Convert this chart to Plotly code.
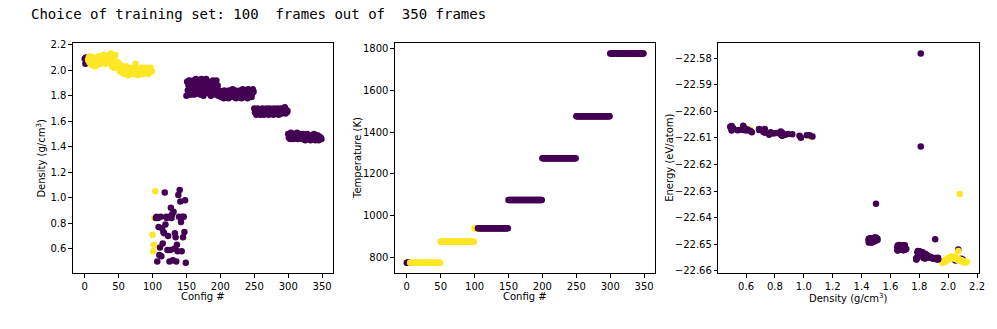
import plotly.graph_objects as go

# ---------------- data ----------------
n_frames = 350
config = list(range(n_frames))
train_idx = list(range(5, 105))          # frames chosen for the training set

temperature = [
    775, 775, 775, 775, 775, 775, 775, 775, 775, 775, 775, 775, 775, 775, 775, 775, 775, 775, 775, 775, 775, 775, 775, 775, 775,
    775, 775, 775, 775, 775, 775, 775, 775, 775, 775, 775, 775, 775, 775, 775, 775, 775, 775, 775, 775, 775, 775, 775, 775, 775,
    875, 875, 875, 875, 875, 875, 875, 875, 875, 875, 875, 875, 875, 875, 875, 875, 875, 875, 875, 875, 875, 875, 875, 875, 875,
    875, 875, 875, 875, 875, 875, 875, 875, 875, 875, 875, 875, 875, 875, 875, 875, 875, 875, 875, 875, 875, 875, 875, 875, 875,
    940, 940, 940, 940, 940, 940, 940, 940, 940, 940, 940, 940, 940, 940, 940, 940, 940, 940, 940, 940, 940, 940, 940, 940, 940,
    940, 940, 940, 940, 940, 940, 940, 940, 940, 940, 940, 940, 940, 940, 940, 940, 940, 940, 940, 940, 940, 940, 940, 940, 940,
    1075, 1075, 1075, 1075, 1075, 1075, 1075, 1075, 1075, 1075, 1075, 1075, 1075, 1075, 1075, 1075, 1075, 1075, 1075, 1075, 1075, 1075, 1075, 1075, 1075,
    1075, 1075, 1075, 1075, 1075, 1075, 1075, 1075, 1075, 1075, 1075, 1075, 1075, 1075, 1075, 1075, 1075, 1075, 1075, 1075, 1075, 1075, 1075, 1075, 1075,
    1275, 1275, 1275, 1275, 1275, 1275, 1275, 1275, 1275, 1275, 1275, 1275, 1275, 1275, 1275, 1275, 1275, 1275, 1275, 1275, 1275, 1275, 1275, 1275, 1275,
    1275, 1275, 1275, 1275, 1275, 1275, 1275, 1275, 1275, 1275, 1275, 1275, 1275, 1275, 1275, 1275, 1275, 1275, 1275, 1275, 1275, 1275, 1275, 1275, 1275,
    1475, 1475, 1475, 1475, 1475, 1475, 1475, 1475, 1475, 1475, 1475, 1475, 1475, 1475, 1475, 1475, 1475, 1475, 1475, 1475, 1475, 1475, 1475, 1475, 1475,
    1475, 1475, 1475, 1475, 1475, 1475, 1475, 1475, 1475, 1475, 1475, 1475, 1475, 1475, 1475, 1475, 1475, 1475, 1475, 1475, 1475, 1475, 1475, 1475, 1475,
    1775, 1775, 1775, 1775, 1775, 1775, 1775, 1775, 1775, 1775, 1775, 1775, 1775, 1775, 1775, 1775, 1775, 1775, 1775, 1775, 1775, 1775, 1775, 1775, 1775,
    1775, 1775, 1775, 1775, 1775, 1775, 1775, 1775, 1775, 1775, 1775, 1775, 1775, 1775, 1775, 1775, 1775, 1775, 1775, 1775, 1775, 1775, 1775, 1775, 1775,
]

density = [
    # 0-49
    2.09, 2.05, 2.10, 2.07, 2.08,
    2.08, 2.10, 2.06, 2.11, 2.09, 2.04, 2.07, 2.10, 2.05, 2.08,
    2.03, 2.09, 2.06, 2.04, 2.10, 2.08, 2.11, 2.07, 2.05, 2.09,
    2.06, 2.10, 2.08, 2.12, 2.07, 2.09, 2.05, 2.11, 2.08, 2.06,
    2.10, 2.12, 2.07, 2.09, 2.13, 2.03, 2.08, 2.05, 2.02, 2.10,
    2.12, 2.04, 2.03, 2.02, 2.06,
    # 50-99
    2.03, 2.01, 1.99, 2.04, 2.00, 1.98, 2.02, 2.00, 1.97, 2.01,
    1.99, 2.03, 1.98, 2.00, 1.96, 2.01, 1.99, 1.97, 2.02, 1.98,
    2.00, 1.98, 2.01, 1.97, 1.99, 2.05, 1.98, 2.00, 1.96, 2.01,
    1.99, 1.97, 2.00, 1.98, 2.02, 1.99, 1.97, 2.01, 1.98, 2.00,
    1.99, 2.02, 1.98, 2.00, 1.97, 2.01, 1.99, 2.02, 2.00, 1.99,
    # 100-149
    0.71, 0.58, 0.63, 0.84, 1.05, 0.84, 0.85, 0.50, 0.84, 0.77,
    0.55, 0.61, 0.85, 0.54, 0.76, 0.64, 0.73, 0.72, 1.04, 0.79,
    0.85, 0.84, 0.59, 0.70, 0.85, 0.50, 0.59, 0.92, 0.84, 0.87,
    0.51, 0.89, 0.60, 0.72, 0.69, 0.50, 0.63, 0.58, 1.02, 0.85,
    1.06, 0.97, 0.81, 0.58, 0.85, 0.69, 0.85, 0.73, 0.98, 0.49,
    # 150-199
    1.80, 1.91, 1.84, 1.88, 1.92, 1.81, 1.86, 1.90, 1.81, 1.87,
    1.92, 1.85, 1.81, 1.89, 1.93, 1.87, 1.82, 1.90, 1.86, 1.92,
    1.81, 1.88, 1.93, 1.85, 1.89, 1.80, 1.91, 1.87, 1.83, 1.93,
    1.86, 1.89, 1.82, 1.91, 1.85, 1.88, 1.80, 1.87, 1.84, 1.92,
    1.83, 1.89, 1.86, 1.81, 1.92, 1.85, 1.88, 1.80, 1.84, 1.82,
    # 200-249
    1.81, 1.79, 1.83, 1.80, 1.82, 1.78, 1.84, 1.81, 1.79, 1.83,
    1.80, 1.82, 1.78, 1.84, 1.81, 1.79, 1.83, 1.80, 1.85, 1.82,
    1.79, 1.81, 1.84, 1.78, 1.82, 1.80, 1.83, 1.79, 1.81, 1.84,
    1.80, 1.78, 1.82, 1.85, 1.81, 1.79, 1.83, 1.80, 1.84, 1.82,
    1.78, 1.85, 1.81, 1.83, 1.80, 1.84, 1.79, 1.82, 1.85, 1.83,
    # 250-299
    1.70, 1.67, 1.69, 1.65, 1.68, 1.70, 1.66, 1.69, 1.67, 1.65,
    1.68, 1.66, 1.70, 1.67, 1.65, 1.69, 1.68, 1.66, 1.70, 1.67,
    1.69, 1.65, 1.68, 1.70, 1.66, 1.67, 1.69, 1.68, 1.65, 1.70,
    1.67, 1.69, 1.66, 1.68, 1.70, 1.67, 1.65, 1.69, 1.68, 1.70,
    1.66, 1.69, 1.67, 1.70, 1.68, 1.71, 1.66, 1.69, 1.67, 1.68,
    # 300-349
    1.50, 1.47, 1.49, 1.46, 1.51, 1.48, 1.47, 1.50, 1.46, 1.49,
    1.48, 1.50, 1.47, 1.51, 1.46, 1.49, 1.48, 1.50, 1.47, 1.49,
    1.46, 1.48, 1.50, 1.47, 1.49, 1.45, 1.48, 1.46, 1.50, 1.47,
    1.49, 1.46, 1.48, 1.45, 1.47, 1.49, 1.46, 1.48, 1.50, 1.47,
    1.45, 1.48, 1.46, 1.49, 1.47, 1.45, 1.48, 1.46, 1.47, 1.46,
]

energy = [
    # 0-49
    -22.6555, -22.6562, -22.6558, -22.6520, -22.6560,
    -22.6562, -22.6566, -22.6555, -22.6568, -22.6560, -22.6552, -22.6558, -22.6564, -22.6553, -22.6561,
    -22.6549, -22.6563, -22.6557, -22.6551, -22.6565, -22.6311, -22.6567, -22.6556, -22.6554, -22.6562,
    -22.6557, -22.6566, -22.6560, -22.6569, -22.6526, -22.6563, -22.6553, -22.6567, -22.6559, -22.6556,
    -22.6565, -22.6568, -22.6557, -22.6562, -22.6566, -22.6550, -22.6561, -22.6554, -22.6552, -22.6564,
    -22.6567, -22.6553, -22.6551, -22.6549, -22.6558,
    # 50-99
    -22.6553, -22.6556, -22.6560, -22.6550, -22.6558, -22.6563, -22.6552, -22.6557, -22.6566, -22.6554,
    -22.6561, -22.6549, -22.6564, -22.6555, -22.6570, -22.6553, -22.6559, -22.6567, -22.6551, -22.6562,
    -22.6556, -22.6563, -22.6552, -22.6568, -22.6558, -22.6546, -22.6561, -22.6554, -22.6569, -22.6550,
    -22.6557, -22.6565, -22.6553, -22.6560, -22.6548, -22.6559, -22.6566, -22.6552, -22.6562, -22.6555,
    -22.6558, -22.6549, -22.6563, -22.6556, -22.6567, -22.6551, -22.6560, -22.6548, -22.6554, -22.6559,
    # 100-149
    -22.6072, -22.6063, -22.6068, -22.6080, -22.6095, -22.6087, -22.6090, -22.6055, -22.6078, -22.6078,
    -22.6070, -22.6068, -22.6083, -22.6071, -22.6088, -22.6078, -22.6066, -22.6072, -22.6090, -22.6083,
    -22.6087, -22.6076, -22.6066, -22.6068, -22.6091, -22.6068, -22.6062, -22.6086, -22.6082, -22.6088,
    -22.6062, -22.6085, -22.6072, -22.6077, -22.6066, -22.6072, -22.6074, -22.6054, -22.6090, -22.6080,
    -22.6094, -22.6092, -22.6081, -22.6070, -22.6092, -22.6070, -22.6085, -22.6080, -22.6099, -22.6058,
    # 150-199
    -22.6541, -22.6552, -22.6538, -22.6549, -22.6556, -22.6535, -22.6547, -22.6553, -22.6540, -22.6550,
    -22.6557, -22.6545, -22.6537, -22.6551, -22.6555, -22.6548, -22.6539, -22.6554, -22.6546, -22.6552,
    -22.6536, -22.6550, -22.6558, -22.6544, -22.6553, -22.6534, -22.6555, -22.6549, -22.6542, -22.6551,
    -22.6547, -22.6553, -22.6540, -22.6482, -22.6546, -22.6550, -22.6533, -22.6548, -22.6543, -22.6556,
    -22.6541, -22.6552, -22.6547, -22.6536, -22.6554, -22.6545, -22.6551, -22.6532, -22.6543, -22.6539,
    # 200-249
    -22.6538, -22.6531, -22.6545, -22.6528, -22.6542, -22.6552, -22.6547, -22.5782, -22.6534, -22.6549,
    -22.6529, -22.6541, -22.6555, -22.6536, -22.6132, -22.6533, -22.6546, -22.6527, -22.6551, -22.6543,
    -22.6548, -22.6535, -22.6539, -22.6557, -22.6530, -22.6544, -22.6550, -22.6526, -22.6540, -22.6553,
    -22.6532, -22.6558, -22.6537, -22.6547, -22.6543, -22.6529, -22.6552, -22.6538, -22.6545, -22.6534,
    -22.6556, -22.6540, -22.6531, -22.6549, -22.6537, -22.6554, -22.6528, -22.6546, -22.6542, -22.6550,
    # 250-299
    -22.6512, -22.6506, -22.6518, -22.6509, -22.6522, -22.6514, -22.6503, -22.6517, -22.6510, -22.6524,
    -22.6508, -22.6516, -22.6511, -22.6520, -22.6505, -22.6519, -22.6513, -22.6507, -22.6521, -22.6515,
    -22.6509, -22.6523, -22.6504, -22.6517, -22.6512, -22.6520, -22.6506, -22.6514, -22.6518, -22.6510,
    -22.6516, -22.6505, -22.6521, -22.6511, -22.6519, -22.6508, -22.6513, -22.6522, -22.6507, -22.6515,
    -22.6520, -22.6510, -22.6517, -22.6504, -22.6514, -22.6518, -22.6509, -22.6523, -22.6512, -22.6516,
    # 300-349
    -22.6481, -22.6489, -22.6476, -22.6492, -22.6484, -22.6479, -22.6487, -22.6348, -22.6490, -22.6482,
    -22.6486, -22.6477, -22.6493, -22.6480, -22.6488, -22.6483, -22.6491, -22.6475, -22.6485, -22.6489,
    -22.6478, -22.6490, -22.6484, -22.6494, -22.6481, -22.6487, -22.6479, -22.6492, -22.6483, -22.6488,
    -22.6476, -22.6491, -22.6485, -22.6480, -22.6493, -22.6482, -22.6489, -22.6477, -22.6486, -22.6490,
    -22.6483, -22.6479, -22.6492, -22.6487, -22.6481, -22.6494, -22.6478, -22.6488, -22.6484, -22.6491,
]

title_text = "Choice of training set: %d\u00a0 frames out of\u00a0 %d frames" % (len(train_idx), n_frames)

# ---------------- styling ----------------
W, H = 997, 329
PURPLE = "#440154"
YELLOW = "#fde725"
train_set = set(train_idx)
colors = [YELLOW if i in train_set else PURPLE for i in config]

FONT = "DejaVu Sans"
TICKFONT = dict(family=FONT, size=10, color="#000000")

# plot-area boxes in pixels (left, right), common top/bottom
boxes = [(73.3, 335.3), (397.3, 659.3), (722.7, 984.7)]
top_px, bot_px = 40.0, 275.0
ydom = [1 - bot_px / H, 1 - top_px / H]


def pad_range(vals, frac=0.05):
    lo, hi = min(vals), max(vals)
    m = (hi - lo) * frac
    return [lo - m, hi + m]


def axis(domain=None, anchor=None, rng=None, **kw):
    d = dict(
        showline=True, mirror=True, linecolor="#000000", linewidth=1,
        ticks="outside", ticklen=3.5, tickwidth=0.8, tickcolor="#000000",
        showgrid=False, zeroline=False, tickfont=TICKFONT,
        range=rng, anchor=anchor,
    )
    if domain is not None:
        d["domain"] = domain
    d.update(kw)
    return d


marker = dict(color=colors, size=6.5, line=dict(width=0))

fig = go.Figure()
fig.add_trace(go.Scatter(x=config, y=density, mode="markers", marker=marker,
                         xaxis="x", yaxis="y", hoverinfo="skip", showlegend=False))
fig.add_trace(go.Scatter(x=config, y=temperature, mode="markers", marker=marker,
                         xaxis="x2", yaxis="y2", hoverinfo="skip", showlegend=False))
fig.add_trace(go.Scatter(x=density, y=energy, mode="markers", marker=marker,
                         xaxis="x3", yaxis="y3", hoverinfo="skip", showlegend=False))

xr_cfg = pad_range(config)
yr_den = pad_range(density)
yr_tmp = pad_range(temperature)
yr_en = pad_range(energy)

fig.update_layout(
    width=W, height=H,
    margin=dict(l=0, r=0, t=0, b=0),
    paper_bgcolor="white", plot_bgcolor="white",
    xaxis=axis([boxes[0][0] / W, boxes[0][1] / W], "y", xr_cfg, tick0=0, dtick=50),
    yaxis=axis(ydom, "x", yr_den, tick0=0.6, dtick=0.2, tickformat=".1f"),
    xaxis2=axis([boxes[1][0] / W, boxes[1][1] / W], "y2", xr_cfg, tick0=0, dtick=50),
    yaxis2=axis(ydom, "x2", yr_tmp, tick0=800, dtick=200),
    xaxis3=axis([boxes[2][0] / W, boxes[2][1] / W], "y3", yr_den, tick0=0.6, dtick=0.2, tickformat=".1f"),
    yaxis3=axis(ydom, "x3", yr_en, tick0=-22.66, dtick=0.01, tickformat=".2f"),
)

ann = []
# figure title (monospace, top-left)
ann.append(dict(text=title_text, xref="paper", yref="paper", x=29.3 / W, y=1 - 10.5 / H,
                xanchor="left", yanchor="middle", showarrow=False,
                font=dict(family="DejaVu Sans Mono", size=14, color="#000000")))
# axis titles
yc = 1 - ((top_px + bot_px) / 2) / H
for (l, r), label, ypx in zip(boxes, ["Config #", "Config #", "Density (g/cm<sup>3</sup>)"],
                              [299.0, 299.0, 300.0]):
    ann.append(dict(text=label, xref="paper", yref="paper", x=(l + r) / 2 / W, y=1 - ypx / H,
                    xanchor="center", yanchor="middle", showarrow=False,
                    font=dict(family=FONT, size=10, color="#000000")))
for xpx, label in zip([41.7, 359.0, 672.7],
                      ["Density (g/cm<sup>3</sup>)", "Temperature (K)", "Energy (eV/atom)"]):
    ann.append(dict(text=label, xref="paper", yref="paper", x=xpx / W, y=yc,
                    xanchor="center", yanchor="middle", textangle=-90, showarrow=False,
                    font=dict(family=FONT, size=10, color="#000000")))
fig.update_layout(annotations=ann)

fig.write_html("out.html")
